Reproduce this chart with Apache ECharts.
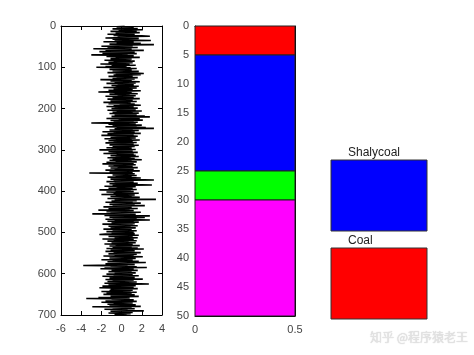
<!DOCTYPE html>
<html>
<head>
<meta charset="utf-8">
<script src="https://cdn.jsdelivr.net/npm/echarts@6/dist/echarts.min.js"></script>
<style>
  html, body { margin: 0; padding: 0; background: #fff; }
  #chart { width: 474px; height: 355px; }
</style>
</head>
<body>
<div id="chart"></div>
<script>
// log curve: one x value per depth sample (depth = index + 1)
const logValues = [
  0.3,-0.5,1.2,0.8,-0.2,1.6,-0.9,0.4,2.1,-0.3,0.9,1.5,-1.1,0.6,0.2,1.8,-0.6,1.1,0.5,-1.4,
  1.3,0.7,-0.8,2.0,2.8,-0.4,1.0,0.2,-1.6,1.7,0.6,-0.9,1.4,0.3,2.9,-0.7,0.8,-1.8,1.2,0.1,
  -0.5,1.9,0.4,-1.2,3.2,0.6,-0.3,1.1,-2.0,0.9,-0.6,1.6,-1.4,0.2,-2.8,1.0,0.3,-0.8,2.2,-1.6,
  0.5,-2.2,1.3,-0.4,0.8,-1.9,1.5,-0.2,0.6,-3.0,-0.9,1.2,0.1,-1.5,0.7,1.8,-0.6,0.3,-1.1,1.0,
  -0.3,0.9,-1.7,0.4,1.3,-0.8,0.2,-1.3,1.1,-0.5,0.6,-2.1,0.8,-0.1,1.4,-1.0,0.3,-1.6,0.5,-2.5,
  0.9,-0.7,1.5,-0.2,-1.2,0.6,1.0,-0.9,0.3,1.7,-0.4,0.8,-1.4,1.2,2.2,-0.6,0.4,1.9,-0.8,0.1,
  1.1,-1.3,0.5,-0.5,1.6,0.2,-0.9,1.3,-0.3,-2.1,0.7,1.0,-1.1,0.4,1.8,-0.7,0.2,1.4,-1.5,0.6,
  -0.4,1.2,0.8,-1.0,0.3,1.7,-0.6,0.9,-1.8,1.5,0.1,-0.8,1.1,-0.2,0.6,-1.3,1.9,0.4,-0.5,-2.3,
  1.0,-0.7,0.5,1.6,-1.2,0.2,0.8,-0.4,1.4,-1.6,0.6,-0.1,1.2,-0.9,0.3,1.8,-1.4,0.7,-0.3,1.1,
  -1.1,0.4,1.5,-0.6,-1.8,0.9,0.2,-1.3,1.3,-0.2,0.7,1.9,-0.8,0.5,-1.5,1.2,0.1,-0.7,1.6,-1.0,
  0.8,-0.3,1.4,-1.4,0.6,2.0,-0.5,1.1,-0.9,0.3,1.7,-1.2,0.9,-0.1,1.5,-0.7,0.4,2.3,-1.0,2.8,
  -0.6,1.3,0.2,-1.5,1.8,-0.3,0.7,2.1,-1.1,0.5,1.2,-0.8,1.6,-0.4,-3.0,0.9,1.4,-1.3,0.3,2.0,
  -0.9,1.5,0.1,-1.6,1.0,2.4,-0.5,3.2,-0.7,1.1,0.4,-1.2,1.7,-0.2,0.8,-1.9,1.3,0.6,-0.8,1.9,
  -1.4,0.5,1.2,-0.6,-2.0,0.9,1.6,-0.3,0.2,-1.1,1.4,0.7,-1.7,1.0,-0.4,1.8,0.3,-1.3,0.6,1.1,
  -0.8,1.5,-1.6,0.4,1.2,-0.5,0.9,-1.2,1.7,0.2,-0.9,1.3,-0.1,0.6,-1.5,1.0,0.3,-1.0,1.4,-2.2,
  0.7,-0.4,1.1,-1.3,0.5,1.6,-0.7,0.2,-1.8,1.2,0.8,-0.5,1.4,-1.1,0.1,1.7,-0.6,0.9,-1.4,0.4,
  1.3,-0.9,0.6,2.0,-1.2,0.3,1.0,-0.6,1.5,-1.5,0.7,-0.2,1.2,-1.9,0.5,1.4,-0.8,0.2,-1.3,1.1,
  -0.4,0.8,1.6,-1.1,0.3,-0.7,1.2,0.5,-1.6,0.9,1.8,-0.5,0.4,-1.2,1.1,-3.2,0.6,1.3,-0.3,0.8,
  -0.9,1.5,0.2,-0.6,1.0,-1.4,0.7,1.9,-0.2,0.4,-1.1,1.3,3.2,-0.8,0.9,0.1,-1.5,1.2,0.5,-0.7,
  1.6,-1.2,0.3,1.0,3.0,-0.9,0.6,-1.7,1.4,0.2,-0.5,1.1,-1.3,0.8,-0.2,1.5,-2.2,0.4,0.9,-0.6,
  1.2,-1.5,0.5,-0.3,1.7,-0.8,0.1,-2.0,1.3,0.6,-0.6,1.0,-1.1,0.3,1.8,-0.4,0.8,-1.4,1.4,3.4,
  -0.7,0.9,1.5,-1.0,0.2,1.1,-1.6,0.6,1.9,-0.3,0.4,-1.2,1.3,-0.5,2.3,-0.9,0.7,-1.8,1.0,0.1,
  -0.6,1.6,-1.3,0.8,0.2,-2.3,1.2,-0.4,0.5,-1.5,1.9,-0.8,0.3,-1.1,-2.9,1.4,-0.2,0.7,-1.7,2.8,
  -0.5,1.0,-1.2,2.3,0.4,-0.9,1.5,-1.6,0.6,2.8,-0.7,1.2,-1.4,0.3,1.7,-1.0,0.8,-0.3,1.3,-1.9,
  0.5,1.1,-0.6,1.6,-1.3,0.2,0.9,-1.1,1.4,-0.4,0.7,-1.8,1.0,0.3,-0.9,1.5,-0.2,-1.5,0.6,1.2,
  -1.0,0.4,1.3,-1.6,-2.2,0.8,1.7,-0.5,0.1,-1.3,1.1,-0.7,1.6,-0.1,0.6,-1.9,1.2,0.3,-0.8,1.5,
  -1.4,0.7,0.2,-1.0,1.4,-0.3,0.9,-1.7,1.1,0.4,-0.6,1.8,-1.2,0.5,1.0,-0.9,0.2,1.6,-1.5,2.2,
  -0.4,0.8,-1.1,1.3,0.1,-1.6,1.0,-0.5,1.9,-0.8,0.6,-1.3,1.5,0.2,-0.7,1.2,-1.8,0.4,2.1,-0.2,
  0.9,-1.2,1.4,-0.6,0.3,-2.0,1.1,0.5,-0.9,1.7,-1.4,0.7,2.4,-0.3,1.0,-1.6,0.2,1.3,-0.8,-3.8,
  0.6,-1.1,1.5,-0.4,2.5,-1.7,0.8,-2.1,1.2,0.1,-1.0,1.6,-0.5,0.4,-1.3,1.0,-0.7,1.4,-0.2,0.7,
  -1.5,1.1,-0.8,0.3,1.7,-1.9,0.5,-0.3,1.3,-1.2,0.9,-0.6,2.1,-1.6,0.2,1.2,-0.9,0.6,-1.4,1.5,
  -0.4,0.8,-1.7,1.0,2.7,-0.2,-1.3,0.4,1.4,-1.9,0.7,-0.8,1.2,-2.2,0.3,1.6,-1.1,0.5,-0.5,1.1,
  -1.2,0.9,-2.0,0.2,1.5,-0.7,-1.5,1.0,0.4,-1.8,1.3,-0.3,0.6,-1.1,1.7,-0.9,0.1,-2.3,0.8,-3.5,
  0.5,-1.0,1.2,-0.6,0.9,-1.6,1.5,-0.2,-2.0,0.7,1.1,-0.8,0.3,-1.4,1.4,-0.4,0.6,-1.2,1.9,-2.9,
  0.4,-0.9,1.0,-0.3,1.3,-1.7,0.6,-0.5,0.2,2.2,-1.1,0.8,-0.6,1.1,-1.3,0.3,0.9,-0.7,0.5,-0.2
]

// lithology column
const layerTop = [0, 5, 25, 30]
const layerBottom = [5, 25, 30, 50]
const layerColors = ['#ff0000', '#0000ff', '#00ff00', '#ff00ff']

// legend boxes on the right
const legendNames = ['Shalycoal', 'Coal']
const legendColors = ['#0000ff', '#ff0000']

const chart = echarts.init(document.getElementById('chart'))

const labelStyle = { color: '#444', fontSize: 11, fontFamily: 'Liberation Sans, Arial, sans-serif' }
const blackLine = { onZero: false, lineStyle: { color: '#000', width: 1 } }
const inTicks = { inside: true, length: 4, lineStyle: { color: '#000' } }

const logData = logValues.map((v, i) => [v, i + 1])
const layerData = layerTop.map((t, i) => [t, layerBottom[i], i])

const legendGraphics = []
legendNames.forEach((name, i) => {
  const top = i === 0 ? 160 : 248
  legendGraphics.push({
    type: 'rect',
    shape: { x: 331, y: top, width: 96, height: 71 },
    style: { fill: legendColors[i], stroke: '#333', lineWidth: 1 }
  })
  legendGraphics.push({
    type: 'text',
    x: 348, y: top - 1,
    style: {
      text: name, fill: '#222', fontSize: 12,
      fontFamily: 'Liberation Sans, Arial, sans-serif',
      textVerticalAlign: 'bottom'
    }
  })
})

chart.setOption({
  animation: false,
  grid: [
    { left: 61, top: 26, width: 101, height: 289 },
    { left: 195, top: 26, width: 100, height: 290 }
  ],
  xAxis: [
    {
      gridIndex: 0, type: 'value', min: -6, max: 4, interval: 2, position: 'bottom',
      axisLine: blackLine, axisTick: inTicks,
      axisLabel: labelStyle, splitLine: { show: false }
    },
    {
      gridIndex: 0, type: 'value', min: -6, max: 4, interval: 2, position: 'top',
      axisLine: blackLine, axisTick: inTicks,
      axisLabel: { show: false }, splitLine: { show: false }
    },
    {
      gridIndex: 1, type: 'value', min: 0, max: 0.5, interval: 0.5, position: 'bottom',
      axisLine: blackLine, axisTick: { show: false },
      axisLabel: labelStyle, splitLine: { show: false }
    },
    {
      gridIndex: 1, type: 'value', min: 0, max: 0.5, position: 'top',
      axisLine: blackLine, axisTick: { show: false },
      axisLabel: { show: false }, splitLine: { show: false }
    }
  ],
  yAxis: [
    {
      gridIndex: 0, type: 'value', min: 0, max: 700, interval: 100, inverse: true, position: 'left',
      axisLine: blackLine, axisTick: inTicks,
      axisLabel: Object.assign({ margin: 5 }, labelStyle), splitLine: { show: false }
    },
    {
      gridIndex: 0, type: 'value', min: 0, max: 700, interval: 100, inverse: true, position: 'right',
      axisLine: blackLine, axisTick: inTicks,
      axisLabel: { show: false }, splitLine: { show: false }
    },
    {
      gridIndex: 1, type: 'value', min: 0, max: 50, interval: 5, inverse: true, position: 'left',
      axisLine: blackLine, axisTick: { show: false },
      axisLabel: Object.assign({ margin: 6 }, labelStyle), splitLine: { show: false }
    },
    {
      gridIndex: 1, type: 'value', min: 0, max: 50, inverse: true, position: 'right',
      axisLine: blackLine, axisTick: { show: false },
      axisLabel: { show: false }, splitLine: { show: false }
    }
  ],
  series: [
    {
      type: 'line', xAxisIndex: 0, yAxisIndex: 0,
      data: logData, showSymbol: false, symbol: 'none',
      lineStyle: { color: '#000', width: 1.6 }
    },
    {
      type: 'custom', xAxisIndex: 2, yAxisIndex: 2,
      data: layerData,
      renderItem: (params, api) => {
        const p0 = api.coord([0, api.value(0)])
        const p1 = api.coord([0.5, api.value(1)])
        return {
          type: 'rect',
          shape: { x: p0[0], y: p0[1], width: p1[0] - p0[0], height: p1[1] - p0[1] },
          style: { fill: layerColors[api.value(2)], stroke: '#222', lineWidth: 1 }
        }
      }
    }
  ],
  graphic: legendGraphics.concat([
    {
      type: 'text', right: 6, bottom: 12,
      style: {
        text: '知乎 @程序猿老王', fill: '#e4e4e4', fontSize: 12,
        fontFamily: 'Noto Sans CJK SC', textShadowColor: 'rgba(0,0,0,0.25)', textShadowBlur: 1
      }
    }
  ])
})
</script>
</body>
</html>
